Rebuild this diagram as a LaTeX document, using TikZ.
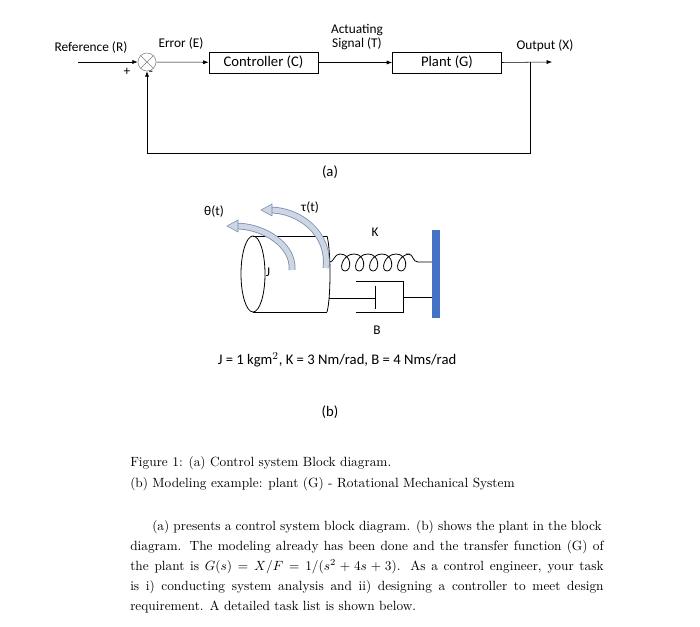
\documentclass[tikz,border=0pt]{standalone}
\usepackage{fontspec}
\newfontfamily\diag{Carlito}
\usetikzlibrary{arrows.meta,positioning}
\definecolor{barblue}{RGB}{68,114,196}
\definecolor{arrfill}{RGB}{205,214,226}
\definecolor{arredge}{RGB}{120,140,175}
\tikzset{
  blk/.style={draw,minimum width=82pt,minimum height=16pt,font=\diag\fontsize{11}{12}\selectfont,inner sep=0pt},
  lbl/.style={font=\diag\fontsize{10}{11}\selectfont,inner sep=1pt},
  sig/.style={-{Latex[length=4pt,width=3pt]}},
  mech/.style={line width=0.6pt},
  line/.style={anchor=west,inner sep=0pt,font=\fontsize{10}{12}\selectfont}
}
\begin{document}
\begin{tikzpicture}[x=0.75pt,y=-0.75pt]
	\useasboundingbox (0,0) rectangle (700,627);
	% block diagram
	\coordinate (in) at (78,62);
	\node[draw,circle,minimum size=13.5pt,inner sep=0pt,gray] (sum) at (147,62) {};
	\draw[gray] (sum.north west) -- (sum.south east) (sum.north east) -- (sum.south west);
	\node[blk] (ctrl) at (263.5,62.5) {Controller (C)};
	\node[blk] (plant) at (447,62.5) {Plant (G)};
	\coordinate (out) at (552,62);
	\coordinate (tap) at (530,62);
	\coordinate (fb) at (530,153);
	\draw[sig] (in) -- (sum);
	\draw[sig] (sum) -- (ctrl);
	\draw[sig] (ctrl) -- (plant);
	\draw[sig] (plant.east) -- (out);
	\draw[sig] (tap) -- (fb) -| (sum);
	\node[lbl] (ref) at (91,48) {Reference (R)};
	\node[lbl] (err) at (181,44) {Error (E)};
	\node[lbl,align=center] (act) at (357,37) {Actuating\\Signal (T)};
	\node[lbl] (outl) at (545,46) {Output (X)};
	\node[lbl] (plus) at (127,72) {+};
	\node[lbl] (minus) at (151,73) {-};
	\node[lbl,font=\diag\fontsize{11}{12}\selectfont] (capa) at (330,172) {(a)};
	% mechanical system
	\draw[mech] (253,236) -- (327,236) (253,312) -- (327,312);
	\draw[mech] (253,274) ellipse [x radius=12, y radius=38];
	\draw[mech] (327,236) .. controls (331,250) and (331,298) .. (327,312);
	\draw[mech] (330,262) .. controls (334,262) and (334,254) .. (340,254)
	  \foreach \i in {0,...,4} { .. controls (\i*14+352,254) and (\i*14+352,271) .. (\i*14+345,271)
	  .. controls (\i*14+338,271) and (\i*14+342,254) .. (\i*14+354,254) }
	  -- (408,254) .. controls (414,254) and (412,262) .. (418,262) -- (432,262);
	\draw[mech] (329,298) -- (375,298) (375,286) -- (375,309);
	\draw[mech] (356,281) -- (403,281) -- (403,312) -- (356,312) (403,297) -- (432,297);
	\fill[barblue] (432,230) rectangle (440,318);
	\node[lbl] (K) at (375,232) {K};
	\node[lbl] (B) at (377,330) {B};
	\node[lbl] (J) at (268,272) {J};
	% torque arrows
	\foreach \s/\e/\ca/\cb in {{(292,270)}/{(236,226)}/{(294,244)}/{(262,226)},{(326,268)}/{(270,210)}/{(330,232)}/{(298,210)}} {
	  \draw[arredge,line width=5pt] \s .. controls \ca and \cb .. \e;
	  \draw[arrfill,line width=3.8pt] \s .. controls \ca and \cb .. \e;
	}
	\fill[arrfill,draw=arredge,thin] (238,220) -- (227,226) -- (238,232) -- cycle;
	\fill[arrfill,draw=arredge,thin] (272,204) -- (261,210) -- (272,216) -- cycle;
	\node[lbl] (theta) at (214,212) {θ(t)};
	\node[lbl] (tau) at (310,208) {τ(t)};
	\node[lbl,font=\diag\fontsize{11}{12}\selectfont] (param) at (337,360) {J = 1 kgm$^2$, K = 3 Nm/rad, B = 4 Nms/rad};
	\node[lbl,font=\diag\fontsize{11}{12}\selectfont] (capb) at (330,412) {(b)};
	% caption and text
	\node[line] (cap1) at (130,463) {Figure 1: (a) Control system Block diagram.};
	\node[line] (cap2) at (130,484) {(b) Modeling example: plant (G) - Rotational Mechanical System};
	\node[line] (t1) at (152,527) {\makebox[337pt][s]{(a) presents a control system block diagram. (b) shows the plant in the block}};
	\node[line] (t2) at (130,547) {\makebox[355pt][s]{diagram. The modeling already has been done and the transfer function (G) of}};
	\node[line] (t3) at (130,567) {\makebox[355pt][s]{the plant is $G(s)=X/F=1/(s^2+4s+3)$. As a control engineer, your task}};
	\node[line] (t4) at (130,587) {\makebox[355pt][s]{is i) conducting system analysis and ii) designing a controller to meet design}};
	\node[line] (t5) at (130,607) {requirement. A detailed task list is shown below.};
\end{tikzpicture}
\end{document}
